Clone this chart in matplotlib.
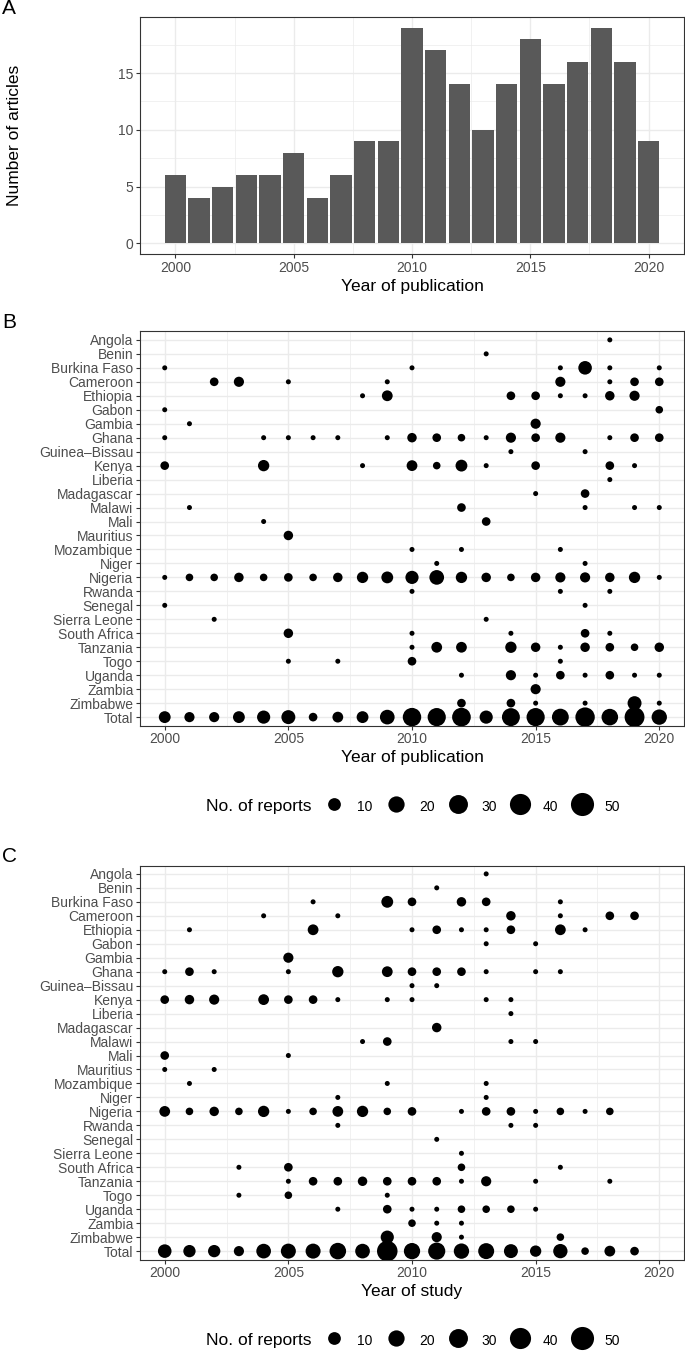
import numpy as np
import matplotlib.pyplot as plt
from matplotlib.lines import Line2D
from matplotlib.ticker import MultipleLocator

plt.rcParams['font.family'] = ['Liberation Sans', 'DejaVu Sans']

# ==========================[Data]=============================

years = list(range(2000, 2021))
articles = [6, 4, 5, 6, 6, 8, 4, 6, 9, 9, 19, 17, 14, 10, 14, 18, 14, 16, 19, 16, 9]

countries = ["Angola", "Benin", "Burkina Faso", "Cameroon", "Ethiopia", "Gabon",
             "Gambia", "Ghana", "Guinea–Bissau", "Kenya", "Liberia", "Madagascar",
             "Malawi", "Mali", "Mauritius", "Mozambique", "Niger", "Nigeria", "Rwanda",
             "Senegal", "Sierra Leone", "South Africa", "Tanzania", "Togo", "Uganda",
             "Zambia", "Zimbabwe", "Total"]

# (country, year of publication, no. of reports)
pub_points = [
    ("Angola", 2018, 1),
    ("Benin", 2013, 1),
    ("Burkina Faso", 2000, 1), ("Burkina Faso", 2010, 1), ("Burkina Faso", 2016, 1),
    ("Burkina Faso", 2017, 12), ("Burkina Faso", 2018, 1), ("Burkina Faso", 2020, 1),
    ("Cameroon", 2002, 3), ("Cameroon", 2003, 5), ("Cameroon", 2005, 1), ("Cameroon", 2009, 1),
    ("Cameroon", 2016, 5), ("Cameroon", 2018, 1), ("Cameroon", 2019, 3), ("Cameroon", 2020, 3),
    ("Ethiopia", 2008, 1), ("Ethiopia", 2009, 6), ("Ethiopia", 2014, 3), ("Ethiopia", 2015, 3),
    ("Ethiopia", 2016, 1), ("Ethiopia", 2017, 1), ("Ethiopia", 2018, 4), ("Ethiopia", 2019, 5),
    ("Gabon", 2000, 1), ("Gabon", 2020, 2),
    ("Gambia", 2001, 1), ("Gambia", 2015, 5),
    ("Ghana", 2000, 1), ("Ghana", 2004, 1), ("Ghana", 2005, 1), ("Ghana", 2006, 1),
    ("Ghana", 2007, 1), ("Ghana", 2009, 1), ("Ghana", 2010, 4), ("Ghana", 2011, 3),
    ("Ghana", 2012, 2), ("Ghana", 2013, 1), ("Ghana", 2014, 5), ("Ghana", 2015, 3),
    ("Ghana", 2016, 5), ("Ghana", 2018, 1), ("Ghana", 2019, 3), ("Ghana", 2020, 3),
    ("Guinea–Bissau", 2014, 1), ("Guinea–Bissau", 2017, 1),
    ("Kenya", 2000, 3), ("Kenya", 2004, 7), ("Kenya", 2008, 1), ("Kenya", 2010, 6),
    ("Kenya", 2011, 2), ("Kenya", 2012, 8), ("Kenya", 2013, 1), ("Kenya", 2015, 3),
    ("Kenya", 2018, 3), ("Kenya", 2019, 1),
    ("Liberia", 2018, 1),
    ("Madagascar", 2015, 1), ("Madagascar", 2017, 3),
    ("Malawi", 2001, 1), ("Malawi", 2012, 3), ("Malawi", 2017, 1), ("Malawi", 2019, 1),
    ("Malawi", 2020, 1),
    ("Mali", 2004, 1), ("Mali", 2013, 3),
    ("Mauritius", 2005, 4),
    ("Mozambique", 2010, 1), ("Mozambique", 2012, 1), ("Mozambique", 2016, 1),
    ("Niger", 2011, 1), ("Niger", 2017, 1),
    ("Nigeria", 2000, 1), ("Nigeria", 2001, 2), ("Nigeria", 2002, 2), ("Nigeria", 2003, 4),
    ("Nigeria", 2004, 2), ("Nigeria", 2005, 3), ("Nigeria", 2006, 2), ("Nigeria", 2007, 4),
    ("Nigeria", 2008, 7), ("Nigeria", 2009, 8), ("Nigeria", 2010, 11), ("Nigeria", 2011, 15),
    ("Nigeria", 2012, 7), ("Nigeria", 2013, 4), ("Nigeria", 2014, 2), ("Nigeria", 2015, 4),
    ("Nigeria", 2016, 5), ("Nigeria", 2017, 5), ("Nigeria", 2018, 4), ("Nigeria", 2019, 7),
    ("Nigeria", 2020, 1),
    ("Rwanda", 2010, 1), ("Rwanda", 2016, 1), ("Rwanda", 2018, 1),
    ("Senegal", 2000, 1), ("Senegal", 2017, 1),
    ("Sierra Leone", 2002, 1), ("Sierra Leone", 2013, 1),
    ("South Africa", 2005, 4), ("South Africa", 2010, 1), ("South Africa", 2014, 1),
    ("South Africa", 2017, 3), ("South Africa", 2018, 1),
    ("Tanzania", 2010, 1), ("Tanzania", 2011, 6), ("Tanzania", 2012, 6), ("Tanzania", 2014, 7),
    ("Tanzania", 2015, 4), ("Tanzania", 2016, 1), ("Tanzania", 2017, 4), ("Tanzania", 2018, 3),
    ("Tanzania", 2019, 2), ("Tanzania", 2020, 4),
    ("Togo", 2005, 1), ("Togo", 2007, 1), ("Togo", 2010, 3), ("Togo", 2016, 1),
    ("Uganda", 2012, 1), ("Uganda", 2014, 5), ("Uganda", 2015, 1), ("Uganda", 2016, 3),
    ("Uganda", 2017, 1), ("Uganda", 2018, 3), ("Uganda", 2019, 1), ("Uganda", 2020, 1),
    ("Zambia", 2015, 5),
    ("Zimbabwe", 2012, 3), ("Zimbabwe", 2014, 3), ("Zimbabwe", 2015, 1), ("Zimbabwe", 2017, 1),
    ("Zimbabwe", 2019, 13), ("Zimbabwe", 2020, 1),
]
pub_total_years = list(range(2000, 2021))
pub_total = [8, 5, 5, 8, 11, 13, 3, 6, 8, 15, 28, 27, 29, 11, 26, 27, 22, 32, 21, 34, 17]

# (country, year of study, no. of reports)
study_points = [
    ("Angola", 2013, 1),
    ("Benin", 2011, 1),
    ("Burkina Faso", 2006, 1), ("Burkina Faso", 2009, 8), ("Burkina Faso", 2010, 3),
    ("Burkina Faso", 2012, 4), ("Burkina Faso", 2013, 3), ("Burkina Faso", 2016, 1),
    ("Cameroon", 2004, 1), ("Cameroon", 2007, 1), ("Cameroon", 2014, 4), ("Cameroon", 2016, 1),
    ("Cameroon", 2018, 3), ("Cameroon", 2019, 3),
    ("Ethiopia", 2001, 1), ("Ethiopia", 2006, 6), ("Ethiopia", 2010, 1), ("Ethiopia", 2011, 3),
    ("Ethiopia", 2012, 1), ("Ethiopia", 2013, 1), ("Ethiopia", 2014, 3), ("Ethiopia", 2016, 6),
    ("Ethiopia", 2017, 1),
    ("Gabon", 2013, 1), ("Gabon", 2015, 1),
    ("Gambia", 2005, 5),
    ("Ghana", 2000, 1), ("Ghana", 2001, 3), ("Ghana", 2002, 1), ("Ghana", 2005, 1),
    ("Ghana", 2007, 7), ("Ghana", 2009, 6), ("Ghana", 2010, 3), ("Ghana", 2011, 3),
    ("Ghana", 2012, 3), ("Ghana", 2013, 1), ("Ghana", 2015, 1), ("Ghana", 2016, 1),
    ("Guinea–Bissau", 2010, 1), ("Guinea–Bissau", 2011, 1),
    ("Kenya", 2000, 3), ("Kenya", 2001, 4), ("Kenya", 2002, 5), ("Kenya", 2004, 6),
    ("Kenya", 2005, 3), ("Kenya", 2006, 3), ("Kenya", 2007, 1), ("Kenya", 2009, 1),
    ("Kenya", 2010, 1), ("Kenya", 2013, 1), ("Kenya", 2014, 1),
    ("Liberia", 2014, 1),
    ("Madagascar", 2011, 4),
    ("Malawi", 2008, 1), ("Malawi", 2009, 3), ("Malawi", 2014, 1), ("Malawi", 2015, 1),
    ("Mali", 2000, 3), ("Mali", 2005, 1),
    ("Mauritius", 2000, 1), ("Mauritius", 2002, 1),
    ("Mozambique", 2001, 1), ("Mozambique", 2009, 1), ("Mozambique", 2013, 1),
    ("Niger", 2007, 1), ("Niger", 2013, 1),
    ("Nigeria", 2000, 6), ("Nigeria", 2001, 2), ("Nigeria", 2002, 4), ("Nigeria", 2003, 2),
    ("Nigeria", 2004, 7), ("Nigeria", 2005, 1), ("Nigeria", 2006, 2), ("Nigeria", 2007, 6),
    ("Nigeria", 2008, 7), ("Nigeria", 2009, 2), ("Nigeria", 2010, 3), ("Nigeria", 2012, 1),
    ("Nigeria", 2013, 3), ("Nigeria", 2014, 3), ("Nigeria", 2015, 1), ("Nigeria", 2016, 2),
    ("Nigeria", 2017, 1), ("Nigeria", 2018, 2),
    ("Rwanda", 2007, 1), ("Rwanda", 2014, 1), ("Rwanda", 2015, 1),
    ("Senegal", 2011, 1),
    ("Sierra Leone", 2012, 1),
    ("South Africa", 2003, 1), ("South Africa", 2005, 3), ("South Africa", 2012, 2),
    ("South Africa", 2016, 1),
    ("Tanzania", 2005, 1), ("Tanzania", 2006, 3), ("Tanzania", 2007, 3), ("Tanzania", 2008, 4),
    ("Tanzania", 2009, 3), ("Tanzania", 2010, 3), ("Tanzania", 2011, 3), ("Tanzania", 2012, 1),
    ("Tanzania", 2013, 5), ("Tanzania", 2015, 1), ("Tanzania", 2018, 1),
    ("Togo", 2003, 1), ("Togo", 2005, 2), ("Togo", 2009, 1),
    ("Uganda", 2007, 1), ("Uganda", 2009, 3), ("Uganda", 2010, 1), ("Uganda", 2011, 1),
    ("Uganda", 2012, 2), ("Uganda", 2013, 2), ("Uganda", 2014, 2), ("Uganda", 2015, 1),
    ("Zambia", 2010, 2), ("Zambia", 2011, 1), ("Zambia", 2012, 1),
    ("Zimbabwe", 2009, 11), ("Zimbabwe", 2011, 5), ("Zimbabwe", 2012, 1), ("Zimbabwe", 2016, 2),
]
study_total_years = list(range(2000, 2020))
study_total = [12, 9, 9, 5, 15, 16, 16, 21, 15, 37, 20, 23, 17, 19, 13, 7, 14, 2, 6, 3]

legend_breaks = [10, 20, 30, 40, 50]

# ==========================[Style]=============================

W, H = 685, 1355
GRID = '#EBEBEB'
BORDER = '#333333'
TICKCOL = '#4D4D4D'


def dot_diam(n):
    # diameter in points, area-like scaling as in ggplot scale_size
    n = np.asarray(n, dtype=float)
    return (5 + 19 * np.sqrt((n - 1) / 54)) * 0.72


def box(left, top, right, bottom):
    return [left / W, 1 - bottom / H, (right - left) / W, (bottom - top) / H]


def style_axes(ax):
    for s in ax.spines.values():
        s.set_color(BORDER)
        s.set_linewidth(0.8)
    ax.tick_params(which='major', length=2.75, width=0.8, color=BORDER,
                   labelcolor=TICKCOL, labelsize=10, pad=2)
    ax.tick_params(which='minor', length=0)
    ax.grid(which='major', color=GRID, linewidth=1.0)
    ax.grid(which='minor', color=GRID, linewidth=0.5)
    ax.set_axisbelow(True)


def dot_panel(ax, points, tot_years, tot_vals, xlabel):
    ypos = {c: i for i, c in enumerate(countries)}
    xs = [p[1] for p in points] + list(tot_years)
    ys = [ypos[p[0]] for p in points] + [ypos["Total"]] * len(tot_years)
    ns = [p[2] for p in points] + list(tot_vals)
    ax.scatter(xs, ys, s=dot_diam(ns) ** 2, color='black', linewidths=0, zorder=3)
    ax.set_yticks(range(len(countries)))
    ax.set_yticklabels(countries)
    ax.set_ylim(len(countries) - 0.4, -0.6)
    ax.set_xlim(1999, 2021)
    ax.xaxis.set_major_locator(MultipleLocator(5))
    ax.xaxis.set_minor_locator(MultipleLocator(2.5))
    style_axes(ax)
    ax.grid(which='minor', axis='y', visible=False)
    ax.set_xlabel(xlabel, fontsize=12.5, labelpad=3)


def size_legend(fig, ycenter):
    handles = [Line2D([], [], marker='o', linestyle='none', color='black',
                      markeredgewidth=0, markersize=float(dot_diam(b))) for b in legend_breaks]
    fig.legend(handles, [str(b) for b in legend_breaks], ncol=5, frameon=False,
               loc='center left', bbox_to_anchor=(322 / W, 1 - ycenter / H),
               borderaxespad=0, borderpad=0, fontsize=10, handlelength=1.73,
               handletextpad=0.81, columnspacing=0.8, handleheight=1.6)
    fig.text(311 / W, 1 - ycenter / H, "No. of reports", fontsize=12.5,
             ha='right', va='center')


fig = plt.figure(figsize=(W / 100, H / 100), dpi=100)

# ===========================[Panel A]==============================
axA = fig.add_axes(box(140, 17, 684, 254))
axA.bar(years, articles, width=0.9, color='#595959', zorder=3)
axA.set_xlim(1998.5, 2021.5)
axA.set_ylim(-0.95, 19.95)
axA.xaxis.set_major_locator(MultipleLocator(5))
axA.xaxis.set_minor_locator(MultipleLocator(2.5))
axA.yaxis.set_major_locator(MultipleLocator(5))
axA.yaxis.set_minor_locator(MultipleLocator(2.5))
style_axes(axA)
axA.set_xlabel("Year of publication", fontsize=12.5, labelpad=3)
axA.set_ylabel("Number of articles", fontsize=12.5)
# panels are aligned, so the y title sits at the far left
axA.yaxis.set_label_coords((22 - 140) / 544, 0.5)
fig.text(2 / W, 1 - 9 / H, "A", fontsize=15, va='center', ha='left')

# ===========================[Panel B]==============================
axB = fig.add_axes(box(140, 331.5, 684, 725.5))
dot_panel(axB, pub_points, pub_total_years, pub_total, "Year of publication")
fig.text(2 / W, 1 - 322 / H, "B", fontsize=15, va='center', ha='left')
size_legend(fig, 806)

# ===========================[Panel C]==============================
axC = fig.add_axes(box(140, 865.5, 684, 1259.5))
dot_panel(axC, study_points, study_total_years, study_total, "Year of study")
fig.text(2 / W, 1 - 856 / H, "C", fontsize=15, va='center', ha='left')
size_legend(fig, 1340)

fig.savefig("out.png", dpi=100)
